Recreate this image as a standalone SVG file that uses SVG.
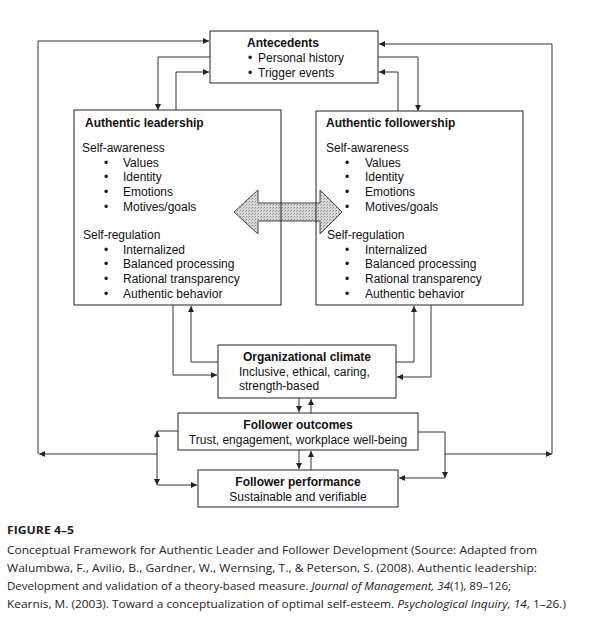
<svg xmlns="http://www.w3.org/2000/svg" width="593" height="620" viewBox="0 0 593 620">
<style>
.box{fill:none;stroke:#222;stroke-width:1}
.t{font-family:"Liberation Sans",Arial,sans-serif;font-size:12px;fill:#111}
.b{font-weight:bold}
.c{text-anchor:middle}
.ln{fill:none;stroke:#333;stroke-width:1}
.cap{font-family:"Open Sans","Noto Sans",sans-serif;font-size:11px;fill:#222}
</style>
<defs>
<marker id="ah" markerWidth="6" markerHeight="6" refX="6" refY="3" orient="auto" markerUnits="userSpaceOnUse">
<path d="M0,0 L6,3 L0,6 z" fill="#222"/>
</marker>
<pattern id="dots" width="3" height="3" patternUnits="userSpaceOnUse">
<rect width="3" height="3" fill="#d8d8d8"/>
<rect width="1" height="1" fill="#8a8a8a"/>
<rect x="2" y="1" width="1" height="1" fill="#a8a8a8"/>
</pattern>
</defs>
<rect width="593" height="620" fill="#fff"/>
<g id="connectors">
<path id="mutual-arrow" d="M234,212 L258,190 L258,203 L320,203 L320,190 L342,212 L320,234 L320,221 L258,221 L258,234 Z" fill="url(#dots)" stroke="#444" stroke-width="1"/>
<path class="ln" d="M157,454 H39" marker-end="url(#ah)"/>
<path class="ln" d="M38,454 V41 H209" marker-end="url(#ah)"/>
<path class="ln" d="M445,454 H552" marker-end="url(#ah)"/>
<path class="ln" d="M552,454 V44 H379" marker-end="url(#ah)"/>
<path class="ln" d="M210,57 H158 V110" marker-end="url(#ah)"/>
<path class="ln" d="M176,110 V72 H209" marker-end="url(#ah)"/>
<path class="ln" d="M378,57 H418 V111" marker-end="url(#ah)"/>
<path class="ln" d="M398,111 V72 H379" marker-end="url(#ah)"/>
<path class="ln" d="M173,305 V375 H217" marker-end="url(#ah)"/>
<path class="ln" d="M218,362 H191 V306" marker-end="url(#ah)"/>
<path class="ln" d="M396,362 H414 V306" marker-end="url(#ah)"/>
<path class="ln" d="M431,305 V377 H397" marker-end="url(#ah)"/>
<path class="ln" d="M299,398 V412" marker-end="url(#ah)"/>
<path class="ln" d="M311,413 V399" marker-end="url(#ah)"/>
<path class="ln" d="M299,450 V469" marker-end="url(#ah)"/>
<path class="ln" d="M311,470 V451" marker-end="url(#ah)"/>
<path class="ln" d="M178,431 H157"/>
<path class="ln" d="M157,454 V431" marker-end="url(#ah)"/>
<path class="ln" d="M157,454 V485" marker-end="url(#ah)"/>
<path class="ln" d="M157,485 H197" marker-end="url(#ah)"/>
<path class="ln" d="M418,432 H445 V478" marker-end="url(#ah)"/>
<path class="ln" d="M445,478 H399" marker-end="url(#ah)"/>
</g>
<g id="antecedents">
<rect class="box" x="210" y="31" width="168" height="52"/>
<text class="t b" x="247" y="47">Antecedents</text>
<text class="t" x="248" y="62">•</text><text class="t" x="258" y="62">Personal history</text>
<text class="t" x="248" y="77">•</text><text class="t" x="258" y="77">Trigger events</text>
</g>
<g id="authentic-leadership">
<rect class="box" x="74" y="110" width="207" height="195"/>
<text class="t b" x="85" y="127">Authentic leadership</text>
<text class="t" x="82" y="152">Self-awareness</text>
<text class="t" x="104" y="167">•</text><text class="t" x="123" y="167">Values</text>
<text class="t" x="104" y="181">•</text><text class="t" x="123" y="181">Identity</text>
<text class="t" x="104" y="196">•</text><text class="t" x="123" y="196">Emotions</text>
<text class="t" x="104" y="211">•</text><text class="t" x="123" y="211">Motives/goals</text>
<text class="t" x="83" y="239">Self-regulation</text>
<text class="t" x="104" y="254">•</text><text class="t" x="123" y="254">Internalized</text>
<text class="t" x="104" y="268">•</text><text class="t" x="123" y="268">Balanced processing</text>
<text class="t" x="104" y="283">•</text><text class="t" x="123" y="283">Rational transparency</text>
<text class="t" x="104" y="298">•</text><text class="t" x="123" y="298">Authentic behavior</text>
</g>
<g id="authentic-followership">
<rect class="box" x="316" y="111" width="207" height="194"/>
<text class="t b" x="326" y="127">Authentic followership</text>
<text class="t" x="326" y="152">Self-awareness</text>
<text class="t" x="345" y="167">•</text><text class="t" x="365" y="167">Values</text>
<text class="t" x="345" y="181">•</text><text class="t" x="365" y="181">Identity</text>
<text class="t" x="345" y="196">•</text><text class="t" x="365" y="196">Emotions</text>
<text class="t" x="345" y="211">•</text><text class="t" x="365" y="211">Motives/goals</text>
<text class="t" x="327" y="239">Self-regulation</text>
<text class="t" x="345" y="254">•</text><text class="t" x="365" y="254">Internalized</text>
<text class="t" x="345" y="268">•</text><text class="t" x="365" y="268">Balanced processing</text>
<text class="t" x="345" y="283">•</text><text class="t" x="365" y="283">Rational transparency</text>
<text class="t" x="345" y="298">•</text><text class="t" x="365" y="298">Authentic behavior</text>
</g>
<g id="organizational-climate">
<rect class="box" x="218" y="345" width="178" height="53"/>
<text class="t b c" x="307" y="361">Organizational climate</text>
<text class="t" x="239" y="376">Inclusive, ethical, caring,</text>
<text class="t" x="239" y="390">strength-based</text>
</g>
<g id="follower-outcomes">
<rect class="box" x="178" y="413" width="240" height="37"/>
<text class="t b c" x="298" y="429">Follower outcomes</text>
<text class="t c" x="298" y="444">Trust, engagement, workplace well-being</text>
</g>
<g id="follower-performance">
<rect class="box" x="198" y="470" width="200" height="37"/>
<text class="t b c" x="298" y="486">Follower performance</text>
<text class="t c" x="298" y="501">Sustainable and verifiable</text>
</g>
<g id="caption">
<text class="cap" x="7" y="534" font-weight="bold" textLength="67" lengthAdjust="spacingAndGlyphs">FIGURE 4–5</text>
<text class="cap" x="7" y="554" textLength="530" lengthAdjust="spacingAndGlyphs">Conceptual Framework for Authentic Leader and Follower Development (Source: Adapted from</text>
<text class="cap" x="7" y="572" textLength="530" lengthAdjust="spacingAndGlyphs">Walumbwa, F., Avilio, B., Gardner, W., Wernsing, T., &amp; Peterson, S. (2008). Authentic leadership:</text>
<text class="cap" x="7" y="590" textLength="504" lengthAdjust="spacingAndGlyphs">Development and validation of a theory-based measure. <tspan font-style="italic">Journal of Management, 34</tspan>(1), 89–126;</text>
<text class="cap" x="7" y="608" textLength="559" lengthAdjust="spacingAndGlyphs">Kearnis, M. (2003). Toward a conceptualization of optimal self-esteem. <tspan font-style="italic">Psychological Inquiry, 14</tspan>, 1–26.)</text>
</g>
</svg>
